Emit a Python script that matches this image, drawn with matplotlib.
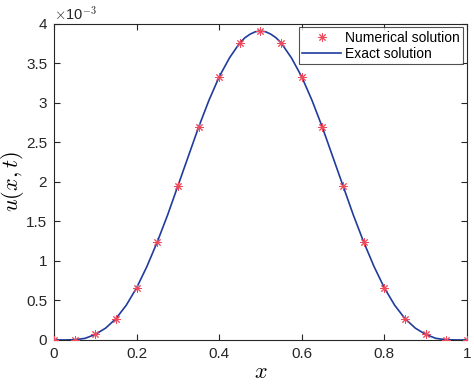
import matplotlib
matplotlib.use('Agg')
import matplotlib.pyplot as plt
import numpy as np

# values in units of 1e-3
x_num = [0, 0.05, 0.1, 0.15, 0.2, 0.25, 0.3, 0.35, 0.4, 0.45, 0.5,
         0.55, 0.6, 0.65, 0.7, 0.75, 0.8, 0.85, 0.9, 0.95, 1.0]
u_num = [0, 0.0, 0.07, 0.27, 0.66, 1.24, 1.95, 2.69, 3.33, 3.76, 3.91,
         3.76, 3.33, 2.69, 1.95, 1.24, 0.66, 0.27, 0.07, 0.0, 0]

x_ex = [0, 0.025, 0.05, 0.075, 0.1, 0.125, 0.15, 0.175, 0.2, 0.225, 0.25,
        0.275, 0.3, 0.325, 0.35, 0.375, 0.4, 0.425, 0.45, 0.4625, 0.475, 0.4875, 0.5,
        0.5125, 0.525, 0.5375, 0.55, 0.575, 0.6, 0.625, 0.65, 0.675, 0.7, 0.725, 0.75,
        0.775, 0.8, 0.825, 0.85, 0.875, 0.9, 0.925, 0.95, 0.975, 1.0]
u_ex = [0, 0.0, 0.003, 0.02, 0.07, 0.15, 0.27, 0.44, 0.66, 0.93, 1.24,
        1.58, 1.95, 2.32, 2.69, 3.03, 3.33, 3.57, 3.76, 3.825, 3.87, 3.90, 3.91,
        3.90, 3.87, 3.825, 3.76, 3.57, 3.33, 3.03, 2.69, 2.32, 1.95, 1.58, 1.24,
        0.93, 0.66, 0.44, 0.27, 0.15, 0.07, 0.02, 0.003, 0.0, 0]

plt.rcParams['font.family'] = ['Liberation Sans', 'DejaVu Sans']
plt.rcParams['mathtext.fontset'] = 'cm'

fig = plt.figure(figsize=(4.74, 3.85), dpi=100)
ax = fig.add_axes([0.114, 0.117, 0.871, 0.821])

gray = '#262626'
ax.plot(x_num, u_num, linestyle='none', marker=(8, 2, 0), color='#ee4a5c',
        markersize=6, markeredgewidth=0.7, label='Numerical solution', zorder=3)
ax.plot(x_ex, u_ex, color='#1f3c9c', linewidth=1.2, label='Exact solution', zorder=2)

ax.set_xlim(0, 1)
ax.set_ylim(0, 4)
ax.set_xticks([0, 0.2, 0.4, 0.6, 0.8, 1])
ax.set_yticks(np.arange(0, 4.01, 0.5))
ax.xaxis.set_major_formatter(matplotlib.ticker.FormatStrFormatter('%g'))
ax.yaxis.set_major_formatter(matplotlib.ticker.FormatStrFormatter('%g'))
ax.tick_params(direction='in', top=True, right=True, length=4, width=0.8,
               colors=gray, labelsize=11, labelcolor=gray, pad=5)
for s in ax.spines.values():
    s.set_color(gray)
    s.set_linewidth(0.8)

ax.text(0.0, 1.005, r'$\times$10$^{-3}$', transform=ax.transAxes, fontsize=10.5,
        color=gray, ha='left', va='bottom')

ax.set_xlabel('$x$', fontsize=16, color='black', labelpad=1)
ax.set_ylabel('$u(x,t)$', fontsize=16, color='black', labelpad=0)

leg = ax.legend(loc='upper right', fontsize=10, frameon=True, fancybox=False,
                edgecolor=gray, borderpad=0.25, handlelength=2.8, handletextpad=0.3,
                labelspacing=0.15, borderaxespad=0.25)
leg.get_frame().set_linewidth(0.8)

fig.savefig('out.png', dpi=100)
